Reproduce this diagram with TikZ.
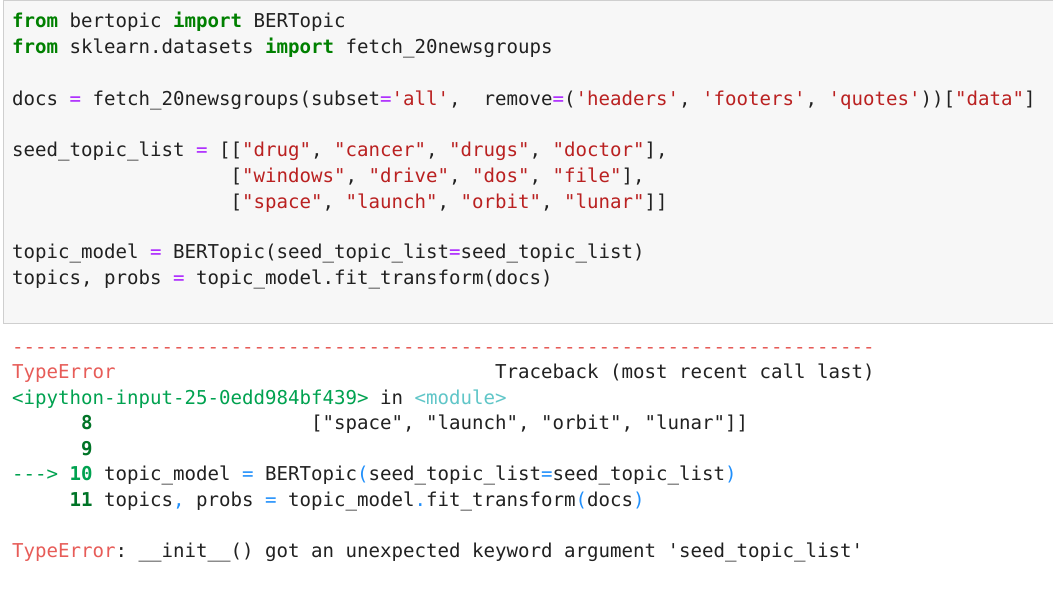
\documentclass[tikz,border=0pt]{standalone}
\usepackage{fontspec}
\setmonofont{DejaVu Sans Mono}
\definecolor{kwc}{HTML}{008000}
\definecolor{stc}{HTML}{BA2121}
\definecolor{opc}{HTML}{AA22FF}
\definecolor{errc}{HTML}{E75C58}
\definecolor{grc}{HTML}{00A250}
\definecolor{dgc}{HTML}{007427}
\definecolor{tlc}{HTML}{60C6C8}
\definecolor{blc}{HTML}{208FFB}
\definecolor{txc}{HTML}{212121}
\newcommand{\kw}[1]{\textcolor{kwc}{\bfseries #1}}
\newcommand{\st}[1]{\textcolor{stc}{#1}}
\newcommand{\op}[1]{\textcolor{opc}{#1}}
\newcommand{\er}[1]{\textcolor{errc}{#1}}
\newcommand{\gr}[1]{\textcolor{grc}{#1}}
\newcommand{\bg}[1]{\textcolor{grc}{\bfseries #1}}
\newcommand{\dg}[1]{\textcolor{dgc}{\bfseries #1}}
\newcommand{\tl}[1]{\textcolor{tlc}{#1}}
\newcommand{\bl}[1]{\textcolor{blc}{#1}}
\begin{document}
\begin{tikzpicture}[x=1pt,y=-1pt,
  ln/.style={anchor=base west,inner sep=0pt,font=\ttfamily\fontsize{19.1}{23}\selectfont,text=txc}]
\useasboundingbox (0,0) rectangle (1053,590);
\fill[white] (0,0) rectangle (1053,590);
\draw[fill={rgb,255:red,247;green,247;blue,247},draw={rgb,255:red,207;green,207;blue,207}] (3.5,0.5) rectangle (1060,323);
\node[ln] (l1) at (12,27) {\kw{from} bertopic \kw{import} BERTopic};
\node[ln] (l2) at (12,53) {\kw{from} sklearn.datasets \kw{import} fetch\_20newsgroups};
\node[ln] (l3) at (12,105) {docs \op{=} fetch\_20newsgroups(subset\op{=}\st{'all'},\ \ remove\op{=}(\st{'headers'}, \st{'footers'}, \st{'quotes'}))[\st{"data"}]};
\node[ln] (l4) at (12,156) {seed\_topic\_list \op{=} [[\st{"drug"}, \st{"cancer"}, \st{"drugs"}, \st{"doctor"}],};
\node[ln] (l5) at (12,182) {\ \ \ \ \ \ \ \ \ \ \ \ \ \ \ \ \ \ \ [\st{"windows"}, \st{"drive"}, \st{"dos"}, \st{"file"}],};
\node[ln] (l6) at (12,208) {\ \ \ \ \ \ \ \ \ \ \ \ \ \ \ \ \ \ \ [\st{"space"}, \st{"launch"}, \st{"orbit"}, \st{"lunar"}]]};
\node[ln] (l7) at (12,258) {topic\_model \op{=} BERTopic(seed\_topic\_list\op{=}seed\_topic\_list)};
\node[ln] (l8) at (12,284) {topics, probs \op{=} topic\_model.fit\_transform(docs)};
\node[ln] (t1) at (12,353) {\er{---------------------------------------------------------------------------}};
\node[ln] (t2) at (12,378) {\er{TypeError}\ \ \ \ \ \ \ \ \ \ \ \ \ \ \ \ \ \ \ \ \ \ \ \ \ \ \ \ \ \ \ \ \ Traceback (most recent call last)};
\node[ln] (t3) at (12,404) {\gr{<ipython-input-25-0edd984bf439>} in \tl{<module>}};
\node[ln] (t4) at (12,429) {\ \ \ \ \ \ \dg{8}\ \ \ \ \ \ \ \ \ \ \ \ \ \ \ \ \ \ \ ["space", "launch", "orbit", "lunar"]]};
\node[ln] (t5) at (12,455) {\ \ \ \ \ \ \dg{9}};
\node[ln] (t6) at (12,480) {\gr{--->} \bg{10} topic\_model \bl{=} BERTopic\bl{(}seed\_topic\_list\bl{=}seed\_topic\_list\bl{)}};
\node[ln] (t7) at (12,506) {\ \ \ \ \ \dg{11} topics\bl{,} probs \bl{=} topic\_model\bl{.}fit\_transform\bl{(}docs\bl{)}};
\node[ln] (t8) at (12,557) {\er{TypeError}: \_\_init\_\_() got an unexpected keyword argument 'seed\_topic\_list'};
\end{tikzpicture}
\end{document}
